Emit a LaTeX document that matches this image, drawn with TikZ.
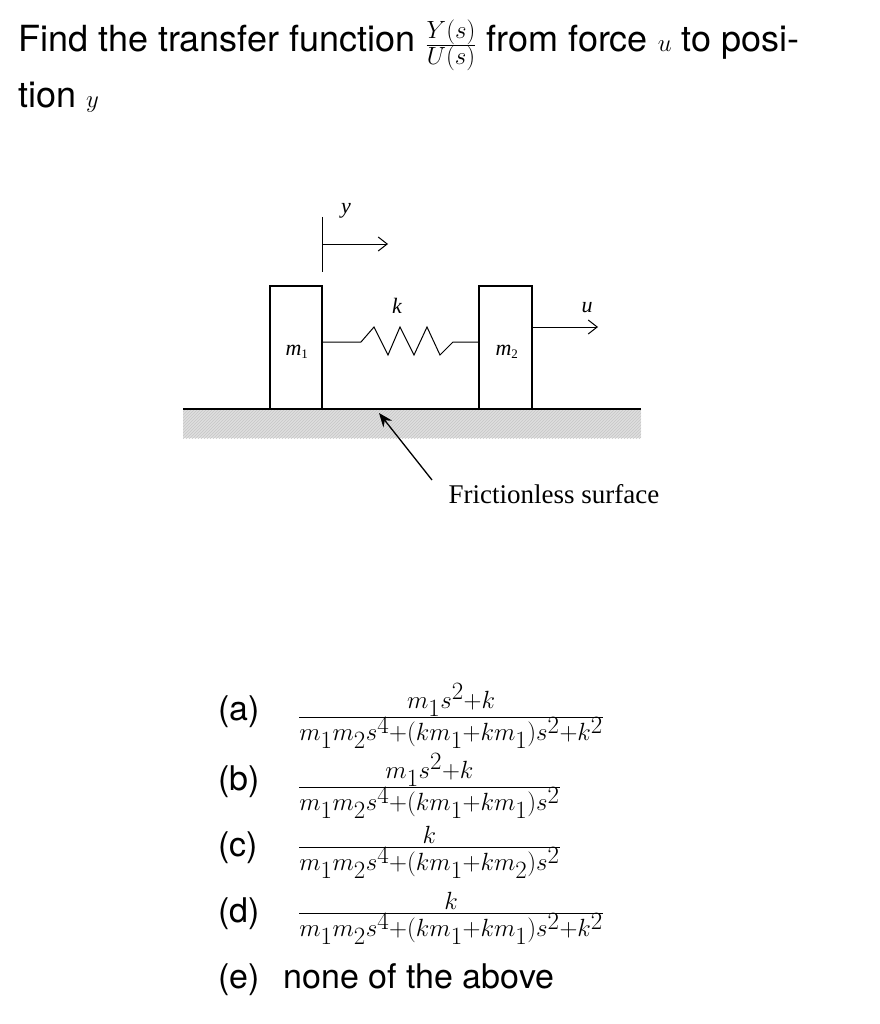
\documentclass[tikz,border=0pt]{standalone}
\usepackage{fontspec}
\setsansfont{TeX Gyre Heros}
\newfontfamily\tms{Liberation Serif}
\usetikzlibrary{arrows.meta,patterns}
\begin{document}
\begin{tikzpicture}[x=1pt,y=-1pt,
  mass/.style={draw,line width=1.1pt},
  thin/.style={line width=1pt},
  varrow/.style={-{Straight Barb[length=9pt,width=14pt]},line width=1pt},
  lab/.style={font=\tms\itshape\fontsize{22}{24}\selectfont},
  opt/.style={anchor=west,font=\fontsize{34}{40}\selectfont\sffamily,inner sep=0pt},
  frac/.style={anchor=west,font=\fontsize{47}{52}\selectfont,inner sep=0pt}]
\useasboundingbox (0,0) rectangle (879,1024);
% title
\node[anchor=west,inner sep=0pt,font=\fontsize{36}{40}\selectfont\sffamily] (t1) at (18,45)
  {Find the transfer function {\fontsize{44}{48}\selectfont$\frac{Y(s)}{U(s)}$} from force {\fontsize{40}{44}\selectfont$u$} to posi-};
\node[anchor=west,inner sep=0pt,font=\fontsize{36}{40}\selectfont\sffamily] (t2) at (18,97) {tion {\fontsize{40}{44}\selectfont$y$}};
% ground
\fill[gray!25] (183,409) rectangle (641,438);
\fill[pattern=north east lines,pattern color=gray!45] (183,409) rectangle (641,438);
\draw[line width=2pt] (183,409) -- (641,409);
% masses
\draw[mass] (270,409) rectangle (322,286);
\draw[mass] (479,409) rectangle (532,286);
\node[lab] (m1) at (297,352) {m\textsubscript{\upshape\fontsize{13}{14}\selectfont1}};
\node[lab] (m2) at (507,352) {m\textsubscript{\upshape\fontsize{13}{14}\selectfont2}};
% spring
\draw[thin] (322,342) -- (361,342) -- (374,327) -- (388,355) -- (400,327) -- (414,355) -- (427,327) -- (440,355) -- (453,342) -- (479,342);
\node[lab] (k) at (397,306) {k};
% force u
\coordinate (u0) at (532,327);
\coordinate (u1) at (598,327);
\draw[varrow] (u0) -- (u1);
\node[lab] (u) at (587,308) {u};
% y marker
\coordinate (ya) at (322,217);
\coordinate (yb) at (322,272);
\coordinate (yc) at (322,244);
\coordinate (yd) at (388,244);
\draw[thin] (ya) -- (yb);
\draw[varrow] (yc) -- (yd);
\node[lab] (y) at (346,211) {y};
% surface arrow
\node[font=\tms\fontsize{27}{30}\selectfont] (fs) at (554,494) {Frictionless surface};
\coordinate (s0) at (432,480);
\coordinate (s1) at (379,413);
\draw[-{Stealth[length=14pt,width=11pt]},line width=1.3pt] (s0) -- (s1);
% options
\node[opt] (a) at (218,712) {(a)};
\node[frac] (fa) at (298,716) {$\frac{m_1s^2+k}{m_1m_2s^4+(km_1+km_1)s^2+k^2}$};
\node[opt] (b) at (218,782) {(b)};
\node[frac] (fb) at (298,786) {$\frac{m_1s^2+k}{m_1m_2s^4+(km_1+km_1)s^2}$};
\node[opt] (c) at (218,848) {(c)};
\node[frac] (fc) at (298,852) {$\frac{k}{m_1m_2s^4+(km_1+km_2)s^2}$};
\node[opt] (d) at (218,914) {(d)};
\node[frac] (fd) at (298,918) {$\frac{k}{m_1m_2s^4+(km_1+km_1)s^2+k^2}$};
\node[opt] (e) at (218,980) {(e)\hspace{0.7em}none of the above};
\end{tikzpicture}
\end{document}
